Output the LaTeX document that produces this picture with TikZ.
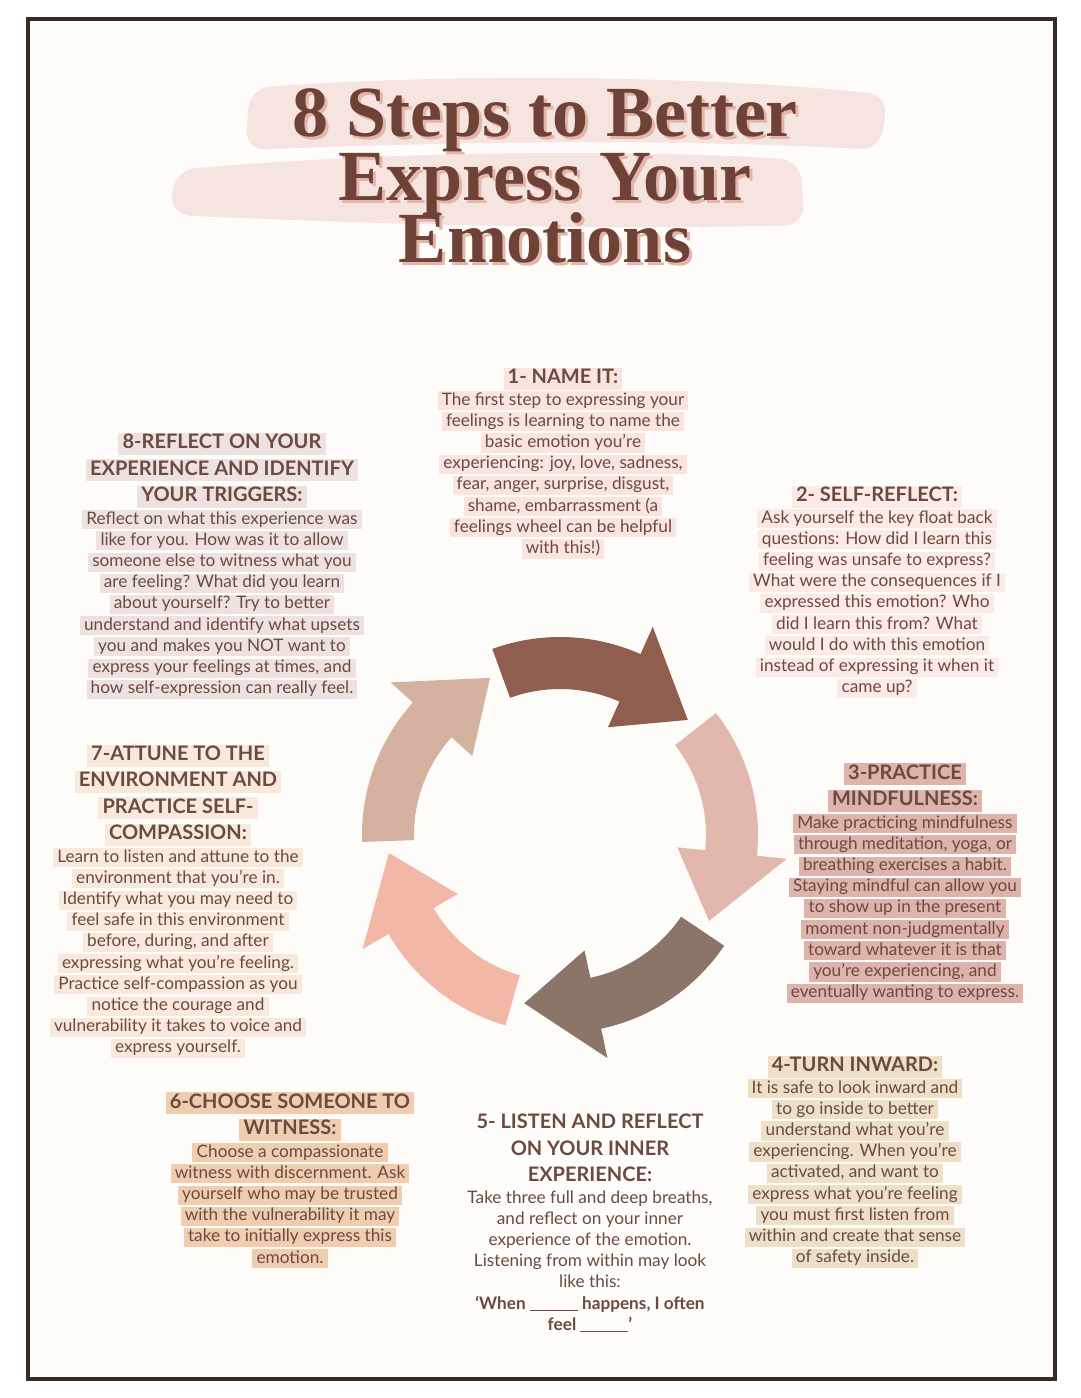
\documentclass[tikz,border=0pt]{standalone}
\usepackage{fontspec}
\setmainfont{Lato}
\newfontfamily\titlefont{Liberation Serif}
\definecolor{txt}{HTML}{6B4A40}
\definecolor{ttl}{HTML}{6E4236}
\definecolor{shd}{HTML}{E4B5AA}
\definecolor{brush}{HTML}{F6E4E0}
\definecolor{frame}{HTML}{3A2A25}
\definecolor{paper}{HTML}{FDFCF8}
\definecolor{cA}{HTML}{F9E4DF}
\definecolor{cB}{HTML}{FBEAE6}
\definecolor{cC}{HTML}{DEB3AC}
\definecolor{cD}{HTML}{EEDFC8}
\definecolor{cE}{HTML}{FDFCF8}
\definecolor{cF}{HTML}{F1CDB0}
\definecolor{cG}{HTML}{F9E9DD}
\definecolor{cH}{HTML}{EEE2E0}
\definecolor{a1}{HTML}{8F5E4F}
\definecolor{a2}{HTML}{E2B7AD}
\definecolor{a3}{HTML}{8A7568}
\definecolor{a4}{HTML}{F2B7A6}
\definecolor{a5}{HTML}{D5B19F}
\setlength{\fboxsep}{1.2pt}
\gdef\hlcol{cA}
\newcommand\setc[1]{\gdef\hlcol{#1}}
\newcommand\hl[1]{\colorbox{\hlcol}{\rule[-4pt]{0pt}{16pt}\hspace{3pt}#1\hspace{3pt}}}
\newcommand\hb[1]{\colorbox{\hlcol}{\rule[-5pt]{0pt}{19.5pt}\hspace{3pt}\bfseries #1\hspace{3pt}}}
\newcommand\blank{\underline{\hspace{48pt}}}
\tikzset{
 body/.style={align=center,text=txt,font=\fontsize{17.2}{21.2}\selectfont,inner sep=0pt,anchor=north},
 head/.style={align=center,text=txt,font=\fontsize{20}{26.4}\selectfont,inner sep=0pt,anchor=south},
 ttxt/.style={font=\titlefont\bfseries\fontsize{72}{64}\selectfont,inner sep=0pt,anchor=base}
}
\newcommand\cyc[2]{%
 \fill[#2,shift={(560,835)}] (#1-68:146) arc[start angle=#1-68,end angle=#1-24,radius=146]
  -- (#1-24:118) -- (#1:172) -- (#1-24:228) -- (#1-24:198)
  arc[start angle=#1-24,end angle=#1-68,radius=198] -- cycle;}
\begin{document}
\begin{tikzpicture}[x=1pt,y=-1pt]
\useasboundingbox (0,0) rectangle (1080,1398);
\fill[white] (0,0) rectangle (1080,1398);
\draw[frame,line width=4pt,fill=paper] (28,19) rectangle (1055,1379);
% brush
\fill[brush,rounded corners=20pt] (250,88) .. controls (500,70) and (750,80) .. (888,95) -- (880,150) .. controls (700,140) and (500,140) .. (245,150) -- cycle;
\fill[brush,rounded corners=20pt] (175,170) .. controls (400,150) and (650,150) .. (800,160) -- (805,225) .. controls (600,230) and (400,225) .. (170,215) -- cycle;
% title
\foreach \t/\y [count=\i] in {8 Steps to Better/136,Express Your/200,Emotions/262}{
 \node[ttxt,text=shd] at (548,\y+3) {\t};
 \node[ttxt,text=ttl] (title\i) at (545,\y) {\t};
}
% cycle
\cyc{318}{a1}
\cyc{30}{a2}
\cyc{102}{a3}
\cyc{174}{a4}
\cyc{246}{a5}
% step 1
\node[head] (h1) at (563,390) {\setc{cA}\hb{1- NAME IT:}};
\node[body] (b1) at (563,391) {\setc{cA}\hl{The first step to expressing your}\\\hl{feelings is learning to name the}\\\hl{basic emotion you’re}\\\hl{experiencing: joy, love, sadness,}\\\hl{fear, anger, surprise, disgust,}\\\hl{shame, embarrassment (a}\\\hl{feelings wheel can be helpful}\\\hl{with this!)}};
% step 2
\node[head] (h2) at (877,508) {\setc{cB}\hb{2- SELF-REFLECT:}};
\node[body] (b2) at (877,509) {\setc{cB}\hl{Ask yourself the key float back}\\\hl{questions: How did I learn this}\\\hl{feeling was unsafe to express?}\\\hl{What were the consequences if I}\\\hl{expressed this emotion? Who}\\\hl{did I learn this from? What}\\\hl{would I do with this emotion}\\\hl{instead of expressing it when it}\\\hl{came up?}};
% step 3
\node[head] (h3) at (905,812) {\setc{cC}\hb{3-PRACTICE}\\\hb{MINDFULNESS:}};
\node[body] (b3) at (905,814) {\setc{cC}\hl{Make practicing mindfulness}\\\hl{through meditation, yoga, or}\\\hl{breathing exercises a habit.}\\\hl{Staying mindful can allow you}\\\hl{to show up in the present}\\\hl{moment non-judgmentally}\\\hl{toward whatever it is that}\\\hl{you’re experiencing, and}\\\hl{eventually wanting to express.}};
% step 4
\node[head] (h4) at (855,1078) {\setc{cD}\hb{4-TURN INWARD:}};
\node[body] (b4) at (855,1079) {\setc{cD}\hl{It is safe to look inward and}\\\hl{to go inside to better}\\\hl{understand what you’re}\\\hl{experiencing. When you’re}\\\hl{activated, and want to}\\\hl{express what you’re feeling}\\\hl{you must first listen from}\\\hl{within and create that sense}\\\hl{of safety inside.}};
% step 5
\node[head] (h5) at (590,1188) {\setc{cE}\hb{5- LISTEN AND REFLECT}\\\hb{ON YOUR INNER}\\\hb{EXPERIENCE:}};
\node[body] (b5) at (590,1189) {\setc{cE}\hl{Take three full and deep breaths,}\\\hl{and reflect on your inner}\\\hl{experience of the emotion.}\\\hl{Listening from within may look}\\\hl{like this:}\\\hl{\bfseries‘When \blank\ happens, I often}\\\hl{\bfseries feel \blank’}};
% step 6
\node[head] (h6) at (290,1141) {\setc{cF}\hb{6-CHOOSE SOMEONE TO}\\\hb{WITNESS:}};
\node[body] (b6) at (290,1143) {\setc{cF}\hl{Choose a compassionate}\\\hl{witness with discernment. Ask}\\\hl{yourself who may be trusted}\\\hl{with the vulnerability it may}\\\hl{take to initially express this}\\\hl{emotion.}};
% step 7
\node[head] (h7) at (178,846) {\setc{cG}\hb{7-ATTUNE TO THE}\\\hb{ENVIRONMENT AND}\\\hb{PRACTICE SELF-}\\\hb{COMPASSION:}};
\node[body] (b7) at (178,848) {\setc{cG}\hl{Learn to listen and attune to the}\\\hl{environment that you’re in.}\\\hl{Identify what you may need to}\\\hl{feel safe in this environment}\\\hl{before, during, and after}\\\hl{expressing what you’re feeling.}\\\hl{Practice self-compassion as you}\\\hl{notice the courage and}\\\hl{vulnerability it takes to voice and}\\\hl{express yourself.}};
% step 8
\node[head] (h8) at (222,508) {\setc{cH}\hb{8-REFLECT ON YOUR}\\\hb{EXPERIENCE AND IDENTIFY}\\\hb{YOUR TRIGGERS:}};
\node[body] (b8) at (222,510) {\setc{cH}\hl{Reflect on what this experience was}\\\hl{like for you. How was it to allow}\\\hl{someone else to witness what you}\\\hl{are feeling? What did you learn}\\\hl{about yourself? Try to better}\\\hl{understand and identify what upsets}\\\hl{you and makes you NOT want to}\\\hl{express your feelings at times, and}\\\hl{how self-expression can really feel.}};
\end{tikzpicture}
\end{document}
